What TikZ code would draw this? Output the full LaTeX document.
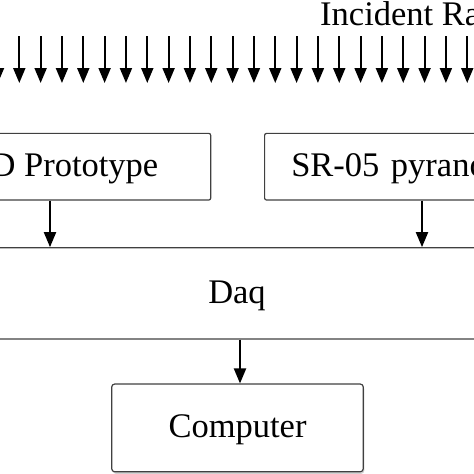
\documentclass[tikz,border=0pt]{standalone}
\usepackage{fontspec}
\setmainfont{Liberation Serif}
\usetikzlibrary{positioning, arrows.meta, shadows}

\begin{document}
\begin{tikzpicture}[
    x=1pt, y=-1pt,
    box/.style={rectangle, draw=black!75, line width=1.2pt, rounded corners=2pt,
                text height=23.3pt, text depth=4pt, font=\fontsize{34.5}{40}\selectfont},
    arrow/.style={-{Triangle[length=15pt, width=12pt]}, line width=2pt},
    label/.style={font=\fontsize{34.5}{40}\selectfont, inner sep=0pt}
]

    \useasboundingbox (0,0) rectangle (474,474);
    \clip (0,0) rectangle (474,474);

    % Incident radiation
    \node[label, anchor=base west] (rad) at (320,25) {Incident Ra};
    \foreach \k in {-1,...,21}
        \draw[arrow] ({19.3+21.33*\k},36) -- ++(0,47);

    % Sensors
    \node[box, minimum width=272.6pt, minimum height=66.7pt] (proto) at (74.4,166.7) {D Prototype};
    \node[box, anchor=west, minimum height=66.7pt, inner xsep=26.7pt,
          text width=300pt, align=left] (pyr) at (264,166.7) {SR-05 pyrano};

    % Daq
    \node[box, minimum width=520pt, minimum height=91.3pt] (daq) at (237,293.4) {Daq};

    % Computer
    \node[box, rounded corners=3pt, minimum width=251.6pt, minimum height=87.7pt,
          drop shadow={shadow xshift=1pt, shadow yshift=-2pt, fill=black!35}, fill=white]
          (comp) at (237.5,427.9) {Computer};

    % Arrows
    \draw[arrow] (50,0 |- proto.south) -- (50,0 |- daq.north);
    \draw[arrow] (422,0 |- pyr.south) -- (422,0 |- daq.north);
    \draw[arrow] (240,0 |- daq.south) -- (240,0 |- comp.north);

\end{tikzpicture}
\end{document}
